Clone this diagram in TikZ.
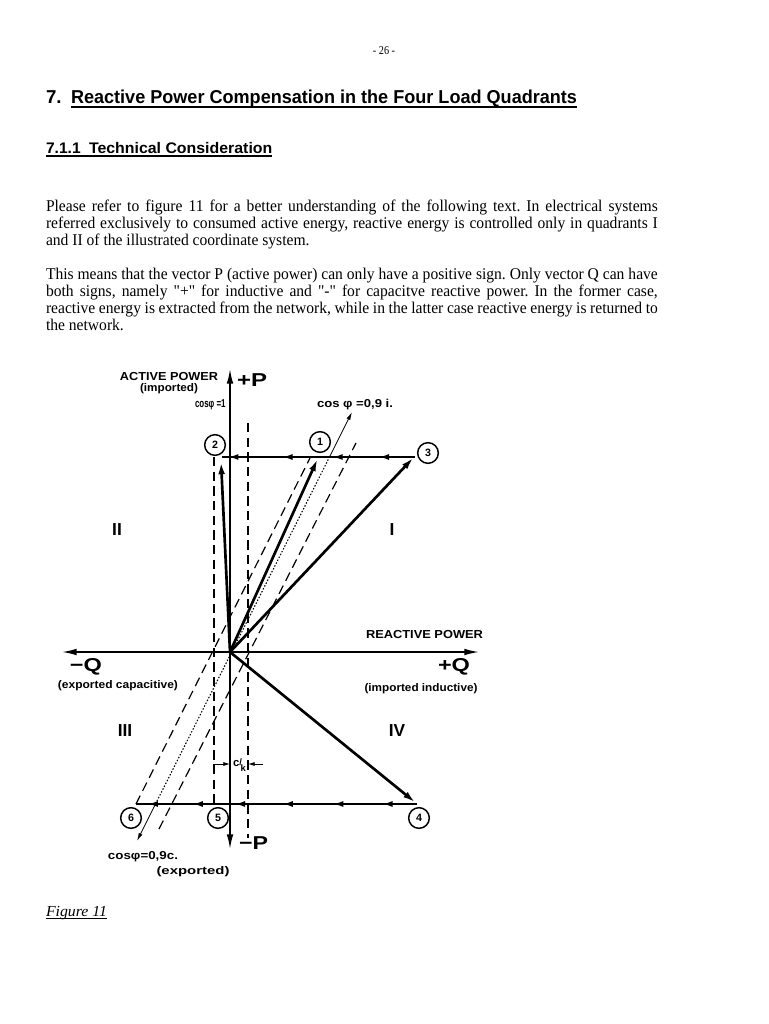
\documentclass[tikz,border=0pt]{standalone}
\usepackage{fontspec}
\setmainfont{Liberation Serif}
\setsansfont{Liberation Sans}
\newfontfamily\qfont{Liberation Serif}[Ligatures=TeXOff]
\usepackage{graphicx}
\usetikzlibrary{arrows.meta,decorations.markings}
\frenchspacing
\newcommand\fs[1]{\fontsize{#1}{#1}\selectfont}
\newcommand\fitw[2]{\resizebox{#1}{\height}{#2}}
\newcommand\jline[1]{\scalebox{0.95}[1]{\makebox[483pt][s]{#1}}}
\newcommand\nline[1]{\scalebox{0.95}[1]{#1}}
\newcommand\dq{{\qfont"}}
\begin{document}
\begin{tikzpicture}[x=0.75pt,y=-0.75pt,
  txt/.style={inner sep=0pt, outer sep=0pt},
  body/.style={txt, anchor=base west, font=\rmfamily\fs{12.3}},
  lbl/.style={txt, font=\sffamily\bfseries\fs{8.7}},
  sml/.style={txt, font=\sffamily\bfseries\fs{8.3}},
  big/.style={txt, font=\sffamily\bfseries\fs{14}},
  quad/.style={txt, font=\sffamily\bfseries\fs{13}},
  cosl/.style={txt, font=\sffamily\bfseries\fs{8.6}},
  circ/.style={circle, draw, line width=1.1pt, minimum size=15.5pt, inner sep=0pt, font=\sffamily\bfseries\fs{8}},
  axisline/.style={line width=1.2pt, -{Latex[length=11pt,width=5pt]}},
  vecline/.style={line width=2pt, -{Latex[length=10pt,width=5pt]}},
  hline/.style={line width=1.6pt, postaction={decorate}},
  dline/.style={line width=0.9pt, dash pattern=on 7pt off 4pt},
  dotline/.style={line width=0.8pt, dash pattern=on 1.1pt off 1.3pt},
  thinarrow/.style={line width=0.6pt, -{Latex[length=6pt,width=3pt]}},
  dimarrow/.style={line width=0.6pt, -{Latex[length=5pt,width=3pt]}}
]
\useasboundingbox (0,0) rectangle (768,1024);
\fill[white] (0,0) rectangle (768,1024);

% ---------- page text ----------
\node[txt, anchor=base, font=\rmfamily\fs{9}] (pg) at (384,55) {\scalebox{0.85}[1]{- 26 -}};

\node[txt, anchor=base west, font=\sffamily\bfseries\fs{14}] (tnum) at (46,103.5) {7.};
\node[txt, anchor=base west, font=\sffamily\bfseries\fs{14}] (title) at (71,103.5) {\fitw{379.5pt}{Reactive Power Compensation in the Four Load Quadrants}};
\draw[line width=1.2pt] ([yshift=-2.6pt]title.base west) -- ([yshift=-2.6pt]title.base east);

\node[txt, anchor=base west, font=\sffamily\bfseries\fs{11.5}] (snum) at (46,153) {\fitw{26pt}{7.1.1}};
\node[txt, anchor=base west, font=\sffamily\bfseries\fs{11.5}] (stitle) at (89,153) {\fitw{137.5pt}{Technical Consideration}};
\draw[line width=1.2pt] ([yshift=-2.4pt]snum.base west) -- ([yshift=-2.4pt]stitle.base east);

\node[body] (p1a) at (46,211) {\jline{Please refer to figure 11 for a better understanding of the following text. In electrical systems}};
\node[body] (p1b) at (46,228) {\jline{referred exclusively to consumed active energy, reactive energy is controlled only in quadrants I}};
\node[body] (p1c) at (46,245) {\nline{and II of the illustrated coordinate system.}};

\node[body] (p2a) at (46,279) {\jline{This means that the vector P (active power) can only have a positive sign. Only vector Q can have}};
\node[body] (p2b) at (46,296) {\jline{both signs, namely \dq+\dq{} for inductive and \dq-\dq{} for capacitve reactive power. In the former case,}};
\node[body] (p2c) at (46,313) {\jline{reactive energy is extracted from the network, while in the latter case reactive energy is returned to}};
\node[body] (p2d) at (46,330) {\nline{the network.}};

\node[txt, anchor=base west, font=\rmfamily\itshape\fs{11.5}] (fig) at (46,916) {\fitw{45.75pt}{Figure 11}};
\draw[line width=0.8pt] ([yshift=-2pt]fig.base west) -- ([yshift=-2pt]fig.base east);

% ---------- diagram ----------
\coordinate (O) at (230,652);
\coordinate (Ptop) at (230,369);
\coordinate (Pbot) at (230,849);
\coordinate (Qlft) at (62,652);
\coordinate (Qrgt) at (479,652);

% dashed verticals
\coordinate (vl1) at (214,457); \coordinate (vl2) at (214,804);
\coordinate (vr1) at (248,423); \coordinate (vr2) at (248,838);
\draw[dline] (vl1) -- (vl2);
\draw[dline] (vr1) -- (vr2);

% dashed diagonals
\coordinate (dl1) at (136,804); \coordinate (dl2) at (310,458);
\coordinate (dr1) at (159,829); \coordinate (dr2) at (356,443);
\draw[dline] (dl1) -- (dl2);
\draw[dline] (dr1) -- (dr2);

% cos phi = 0.9 line
\coordinate (cb) at (137,841); \coordinate (B1) at (155.5,804);
\coordinate (T1) at (329,458); \coordinate (ct) at (352,412);
\draw[dotline] (B1) -- (T1);
\draw[thinarrow] (B1) -- (cb);
\draw[thinarrow] (T1) -- (ct);

% axes
\draw[axisline] (O) -- (Ptop);
\draw[axisline] (O) -- (Pbot);
\draw[axisline] (O) -- (Qlft);
\draw[axisline] (O) -- (Qrgt);

% horizontal power lines
\coordinate (h3) at (415,457); \coordinate (h2) at (222,457);
\draw[hline, decoration={markings,
   mark=at position 0.19 with {\arrow{Latex[length=8pt,width=4.5pt]}},
   mark=at position 0.43 with {\arrow{Latex[length=8pt,width=4.5pt]}},
   mark=at position 0.69 with {\arrow{Latex[length=8pt,width=4.5pt]}},
   mark=at position 0.97 with {\arrow{Latex[length=8pt,width=4.5pt]}}}] (h3) -- (h2);
\coordinate (h4) at (417,804); \coordinate (h6) at (136,804);
\draw[hline, decoration={markings,
   mark=at position 0.125 with {\arrow{Latex[length=8pt,width=4.5pt]}},
   mark=at position 0.30 with {\arrow{Latex[length=8pt,width=4.5pt]}},
   mark=at position 0.48 with {\arrow{Latex[length=8pt,width=4.5pt]}},
   mark=at position 0.65 with {\arrow{Latex[length=8pt,width=4.5pt]}},
   mark=at position 0.80 with {\arrow{Latex[length=8pt,width=4.5pt]}},
   mark=at position 0.96 with {\arrow{Latex[length=8pt,width=4.5pt]}}}] (h4) -- (h6);

% vectors
\coordinate (t1) at (318,458); \coordinate (t2) at (221,461);
\coordinate (t3) at (414,457); \coordinate (t4) at (416,803);
\draw[vecline] (O) -- (t1);
\draw[vecline] (O) -- (t2);
\draw[vecline] (O) -- (t3);
\draw[vecline] (O) -- (t4);

% circles
\node[circ] (n1) at (320,442) {1};
\node[circ] (n2) at (215,445) {2};
\node[circ] (n3) at (428,453) {3};
\node[circ] (n4) at (419,818) {4};
\node[circ] (n5) at (218,818) {5};
\node[circ] (n6) at (131,818) {6};

% c/k dimension
\coordinate (ck1) at (213,764); \coordinate (ck2) at (230,764);
\coordinate (ck3) at (263,764); \coordinate (ck4) at (248,764);
\draw[dimarrow] (ck1) -- (ck2);
\draw[dimarrow] (ck3) -- (ck4);
\node[txt, font=\sffamily\bfseries\fs{8.5}] (ck) at (239.5,765) {c\raisebox{1pt}{\fs{7}/}\kern-1pt\raisebox{-3.5pt}{\fs{7}k}};

% labels
\node[lbl, anchor=base east] (ap) at (218,380) {\fitw{73.5pt}{ACTIVE POWER}};
\node[sml] (imp) at (169,389) {\fitw{43.5pt}{(imported)}};
\node[big, anchor=base west] (pp) at (237,386) {\fitw{22.5pt}{+P}};
\node[cosl, anchor=base west] (c1) at (195,407) {\fitw{23pt}{cosφ =1}};
\node[cosl, anchor=base west] (c09i) at (317,407) {\fitw{57pt}{cos φ =0,9 i.}};

\node[quad] (q2) at (117,530) {II};
\node[quad] (q1) at (392,530) {I};
\node[quad] (q3) at (125,731) {III};
\node[quad] (q4) at (397,731) {IV};

\node[lbl, anchor=base west] (rp) at (366,638) {\fitw{87.75pt}{REACTIVE POWER}};
\node[big] (mq) at (86,667) {\fitw{24pt}{−Q}};
\node[big] (pq) at (454,667) {\fitw{24pt}{+Q}};
\node[sml] (expc) at (118,686) {\fitw{90pt}{(exported capacitive)}};
\node[sml] (impi) at (421,689) {\fitw{84.75pt}{(imported inductive)}};

\node[big, anchor=base west] (mp) at (239,849) {\fitw{21.75pt}{−P}};
\node[cosl] (c09c) at (143,857) {\fitw{52.5pt}{cosφ=0,9c.}};
\node[sml] (exp) at (193,872) {\fitw{54.75pt}{(exported)}};
\end{tikzpicture}
\end{document}
